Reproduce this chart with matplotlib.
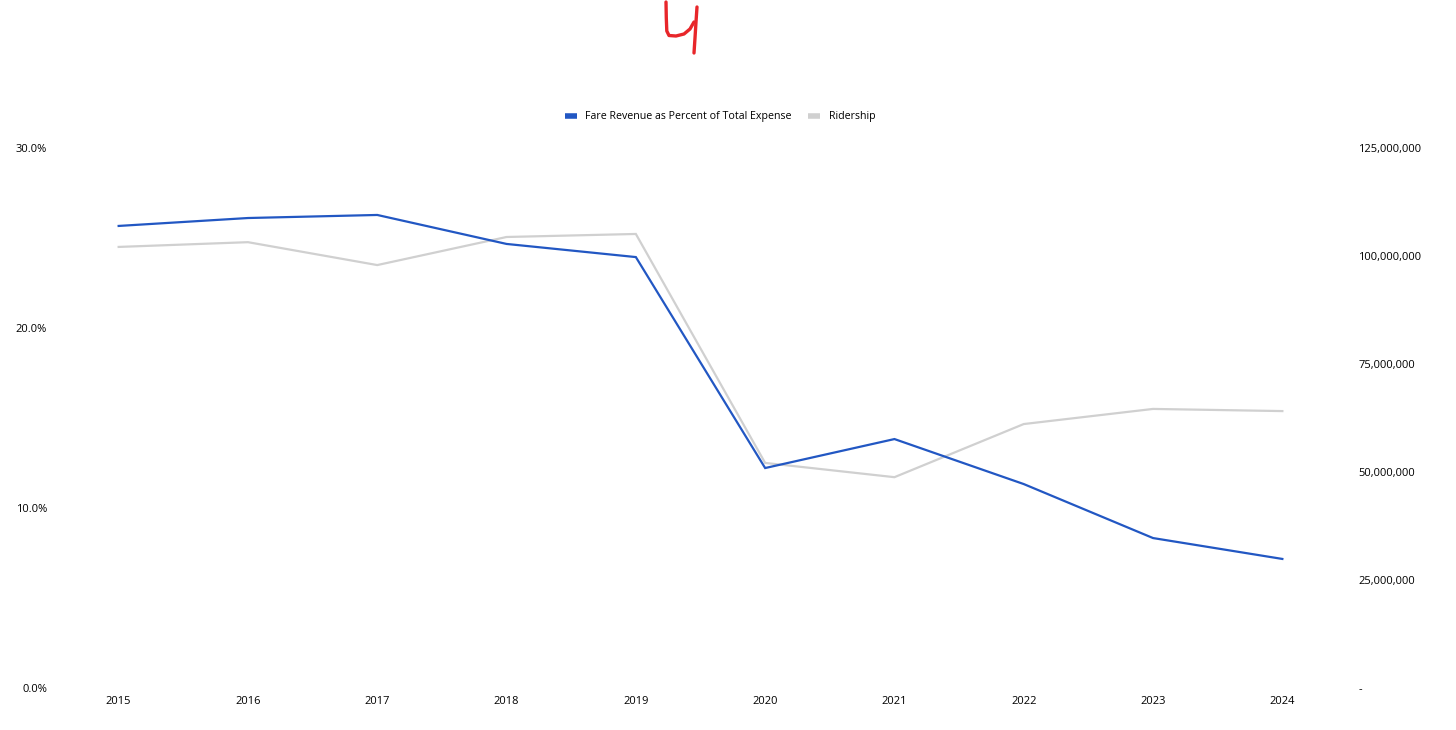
import matplotlib
matplotlib.use('Agg')
import matplotlib.pyplot as plt
from matplotlib.lines import Line2D
from matplotlib.ticker import FuncFormatter, FixedLocator

plt.rcParams['font.family'] = ['Open Sans', 'DejaVu Sans']

years = ['2015', '2016', '2017', '2018', '2019', '2020', '2021', '2022', '2023', '2024']
fare_pct = [25.67, 26.11, 26.28, 24.67, 23.94, 12.22, 13.83, 11.33, 8.33, 7.17]
ridership = [102.1e6, 103.2e6, 97.9e6, 104.4e6, 105.1e6, 52.1e6, 48.8e6, 61.1e6, 64.6e6, 64.1e6]

blue = '#2257C3'
gray = '#D0D0D0'
fs = 8.0

fig = plt.figure(figsize=(14.56, 7.3), dpi=100)
ax = fig.add_axes([54 / 1456, 42 / 730, 1293 / 1456, 540 / 730])
ax2 = ax.twinx()

x = list(range(len(years)))
l1, = ax.plot(x, fare_pct, color=blue, lw=1.6, solid_joinstyle='miter', zorder=3)
l2, = ax2.plot(x, ridership, color=gray, lw=1.6, solid_joinstyle='miter', zorder=2)
ax.set_zorder(ax2.get_zorder() + 1)
ax.patch.set_visible(False)

ax.set_xlim(-0.5, len(years) - 0.5)
ax.set_ylim(0, 30)
ax.yaxis.set_major_locator(FixedLocator([0, 10, 20, 30]))
ax.yaxis.set_major_formatter(FuncFormatter(lambda v, p: f'{v:.1f}%'))
ax2.set_ylim(0, 125e6)
ax2.yaxis.set_major_locator(FixedLocator([0, 25e6, 50e6, 75e6, 100e6, 125e6]))
ax2.yaxis.set_major_formatter(FuncFormatter(lambda v, p: '-' if v == 0 else f'{v:,.0f}'))

ax.set_xticks(x)
ax.set_xticklabels(years)

for a in (ax, ax2):
    for s in a.spines.values():
        s.set_visible(False)
    a.tick_params(length=0, labelsize=fs, colors='#000000')
ax.tick_params(axis='y', pad=5)
ax.tick_params(axis='x', pad=6)
ax2.tick_params(axis='y', pad=8)

handles = [Line2D([], [], color=blue, lw=4, solid_capstyle='butt'),
           Line2D([], [], color=gray, lw=4, solid_capstyle='butt')]
fig.legend(handles, ['Fare Revenue as Percent of Total Expense', 'Ridership'],
           loc='center', bbox_to_anchor=(720 / 1456, 1 - 117 / 730), ncol=2,
           frameon=False, fontsize=7.7, handlelength=1.1, handletextpad=0.8,
           columnspacing=1.55)

# red handwritten "4" annotation at the top
W, H = 1456, 730
stroke1 = [(666, 2), (666.3, 18), (666.8, 31), (669, 35.5), (676, 36), (684, 34), (690, 29), (694, 22)]
stroke2 = [(697, 7), (696, 22), (695, 38), (694, 53)]
for st in (stroke1, stroke2):
    fig.add_artist(Line2D([p[0] / W for p in st], [1 - p[1] / H for p in st],
                          color='#E8262A', lw=2.4, solid_capstyle='round',
                          solid_joinstyle='round'))

fig.savefig('out.png', dpi=100, facecolor='white')
